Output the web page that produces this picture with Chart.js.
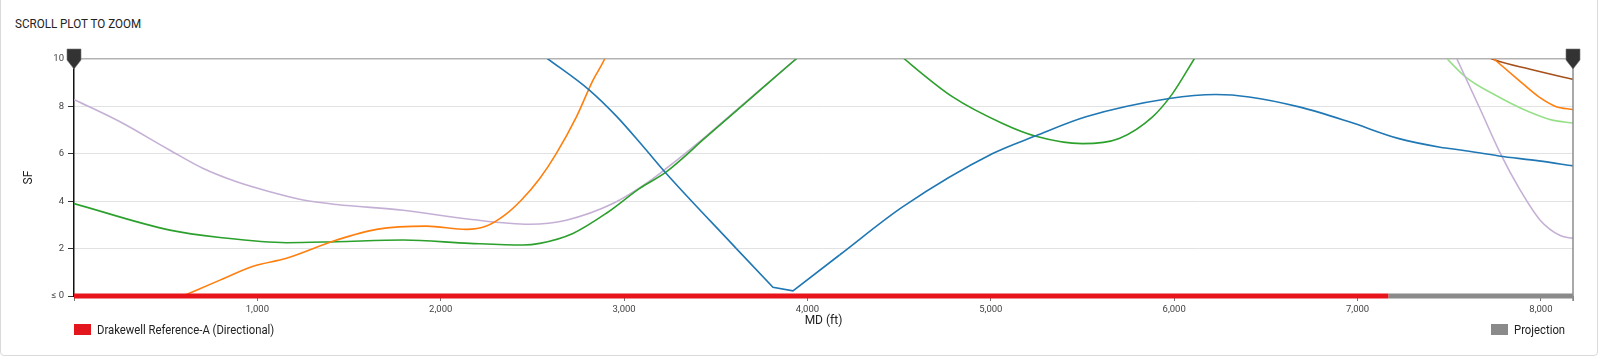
<!DOCTYPE html>
<html>
<head>
<meta charset="utf-8">
<title>SF vs MD</title>
<script src="https://cdn.jsdelivr.net/npm/chart.js@4.4.1/dist/chart.umd.min.js"></script>
<style>
    html, body {
        margin: 0;
        padding: 0;
        width: 1600px;
        height: 359px;
        overflow: hidden;
        background: #fff;
        font-family: Roboto, sans-serif;
    }
    .card {
        position: absolute;
        left: 0;
        top: -10px;
        width: 1598px;
        height: 366px;
        box-sizing: border-box;
        border: 1px solid #dadada;
        border-radius: 4px;
    }
    .plot-title {
        position: absolute;
        left: 15px;
        top: 16px;
        font-size: 12.5px;
        color: #222;
        white-space: nowrap;
        transform: scaleX(0.93);
        transform-origin: left center;
    }
    #chart-wrap {
        position: absolute;
        left: 0;
        top: 0;
        width: 1600px;
        height: 359px;
    }
    .legend-item {
        position: absolute;
        top: 322px;
        height: 14px;
        display: flex;
        align-items: center;
        white-space: nowrap;
        font-size: 13px;
        color: #222;
    }
    .legend-swatch {
        width: 17px;
        height: 11px;
        margin-right: 6px;
    }
    .legend-text {
        display: inline-block;
        transform: scaleX(0.87);
        transform-origin: left center;
    }
</style>
</head>
<body>
<div class="card"></div>
<div class="plot-title">SCROLL PLOT TO ZOOM</div>
<div id="chart-wrap"><canvas id="sf-chart"></canvas></div>
<div class="legend-item" style="left:74px;">
    <span class="legend-swatch" style="background:#e3161d;"></span>
    <span class="legend-text">Drakewell Reference-A (Directional)</span>
</div>
<div class="legend-item" style="left:1491px;">
    <span class="legend-swatch" style="background:#8a8a8a;"></span>
    <span class="legend-text">Projection</span>
</div>

<script>
// =====================
// Data (MD in ft, SF)
// =====================
const mdMax = 8175;
const planEndMd = 7168;

// blue: smooth down, sharp V near 3,900 ft, then back up
const blueMd = [2480, 2585, 2812, 2958, 3103, 3230, 3611, 3812, 3921, 4175, 4519, 5010, 5246, 5519, 5973, 6227, 6409, 6681, 6954, 7226, 7450, 7571, 7771, 7989, 8175];
const blueSf = [10.6, 10.0, 8.68, 7.59, 6.32, 5.17, 2.01, 0.37, 0.22, 1.73, 3.76, 6.01, 6.76, 7.56, 8.33, 8.5, 8.4, 7.98, 7.35, 6.64, 6.28, 6.15, 5.91, 5.7, 5.49];
const blueKinkMd = [3611, 4175];   // straight segment between these depths

const orangeMdA = [594, 796, 977, 1159, 1432, 1650, 1922, 2140, 2249, 2349, 2440, 2540, 2630, 2740, 2830, 2894, 2930];
const orangeSfA = [0, 0.67, 1.26, 1.59, 2.36, 2.81, 2.95, 2.81, 2.95, 3.41, 4.05, 4.96, 6.01, 7.56, 9.1, 10.0, 10.7];
const orangeMdB = [7700, 7744, 7880, 7989, 8080, 8175];
const orangeSfB = [10.3, 10.0, 9.1, 8.4, 8.0, 7.87];

const greenMdA = [0, 523, 796, 1159, 1432, 1795, 2158, 2449, 2540, 2721, 2903, 3085, 3230, 3448, 3720, 3938, 4000];
const greenSfA = [3.9, 2.78, 2.47, 2.25, 2.29, 2.36, 2.22, 2.15, 2.22, 2.64, 3.49, 4.54, 5.24, 6.71, 8.54, 10.0, 10.4];
const greenMdB = [4470, 4529, 4792, 5064, 5246, 5500, 5700, 5882, 5991, 6109, 6150];
const greenSfB = [10.4, 10.0, 8.4, 7.28, 6.74, 6.43, 6.65, 7.56, 8.54, 10.0, 10.5];

const lilacMdA = [0, 251, 523, 705, 887, 1068, 1250, 1432, 1795, 2158, 2485, 2685, 2939, 3121, 3230, 3448, 3720, 3938, 4000];
const lilacSfA = [8.29, 7.35, 6.15, 5.38, 4.82, 4.4, 4.05, 3.86, 3.62, 3.24, 3.03, 3.2, 3.9, 4.75, 5.38, 6.75, 8.56, 10.0, 10.4];
const lilacMdB = [7500, 7542, 7669, 7778, 7887, 7996, 8105, 8175];
const lilacSfB = [10.7, 10.0, 7.88, 6.03, 4.47, 3.2, 2.55, 2.43];

const lightGreenMd = [7440, 7490, 7590, 7753, 7935, 8062, 8175];
const lightGreenSf = [10.45, 10.0, 9.24, 8.47, 7.77, 7.42, 7.3];

const brownMd = [7700, 7735, 7953, 8175];
const brownSf = [10.14, 10.0, 9.55, 9.14];

const xTicks = [0, 1000, 2000, 3000, 4000, 5000, 6000, 7000, 8000, mdMax];
const yTicks = [0, 2, 4, 6, 8, 10];


// Zip two arrays into {x, y} points
function toPoints(mdList, sfList) {
    return mdList.map((md, i) => ({ x: md, y: sfList[i] }));
}

// Build one curve dataset (smooth unless told otherwise)
function curve(mdList, sfList, color, straight) {
    return {
        data: toPoints(mdList, sfList),
        borderColor: color,
        borderWidth: 1.6,
        pointRadius: 0,
        cubicInterpolationMode: straight ? 'default' : 'monotone',
        tension: 0,
        fill: false
    };
}

// Thick bar along SF = 0 showing the plan / projection part of the well
function baseline(fromMd, toMd, color) {
    return {
        data: toPoints([fromMd, toMd], [0, 0]),
        borderColor: color,
        borderWidth: 5,
        pointRadius: 0,
        tension: 0,
        clip: false
    };
}

// Split the blue curve so the V at the bottom stays sharp
const kinkFrom = blueMd.indexOf(blueKinkMd[0]);
const kinkTo = blueMd.indexOf(blueKinkMd[1]);


/**
 * Draws the slider handles on both ends of the plot and the right edge line.
 */
const sliderHandles = {
    id: 'sliderHandles',
    afterDraw(chart) {
        const { ctx, chartArea } = chart;
        ctx.save();

        // Right edge of the plot
        ctx.strokeStyle = '#8c8c8c';
        ctx.lineWidth = 1.5;
        ctx.beginPath();
        ctx.moveTo(chartArea.right, chartArea.top);
        ctx.lineTo(chartArea.right, chartArea.bottom + 5);
        ctx.stroke();

        [chartArea.left, chartArea.right].forEach(x => {
            const top = chartArea.top - 10;
            ctx.beginPath();
            ctx.moveTo(x - 7, top);
            ctx.lineTo(x + 7, top);
            ctx.lineTo(x + 7, top + 11);
            ctx.lineTo(x, top + 20);
            ctx.lineTo(x - 7, top + 11);
            ctx.closePath();
            ctx.fillStyle = '#333';
            ctx.fill();
            ctx.strokeStyle = '#777';
            ctx.lineWidth = 0.6;
            ctx.stroke();
        });

        ctx.restore();
    }
};


Chart.defaults.font.family = 'Roboto, sans-serif';

const ctx = document.getElementById('sf-chart').getContext('2d');

new Chart(ctx, {
    type: 'line',
    data: {
        datasets: [
            // wellbore baseline (drawn on top)
            baseline(0, planEndMd, '#e8141b'),
            baseline(planEndMd, mdMax, '#8a8a8a'),
            curve(blueMd.slice(0, kinkFrom + 1), blueSf.slice(0, kinkFrom + 1), '#1f77b4'),
            curve(blueMd.slice(kinkFrom, kinkTo + 1), blueSf.slice(kinkFrom, kinkTo + 1), '#1f77b4', true),
            curve(blueMd.slice(kinkTo), blueSf.slice(kinkTo), '#1f77b4'),
            curve(orangeMdA, orangeSfA, '#ff7f0e'),
            curve(orangeMdB, orangeSfB, '#ff7f0e'),
            curve(greenMdA, greenSfA, '#2ca02c'),
            curve(greenMdB, greenSfB, '#2ca02c'),
            curve(lilacMdA, lilacSfA, '#c5b0d5'),
            curve(lilacMdB, lilacSfB, '#c5b0d5'),
            curve(lightGreenMd, lightGreenSf, '#98df8a'),
            curve(brownMd, brownSf, '#a6501a')
        ]
    },
    options: {
        responsive: true,
        maintainAspectRatio: false,
        animation: false,
        layout: {
            padding: { top: 59, right: 27, left: 0, bottom: 0 }
        },
        plugins: {
            legend: { display: false },
            tooltip: { enabled: false }
        },
        scales: {
            x: {
                type: 'linear',
                min: 0,
                max: mdMax,
                afterFit(scale) { scale.height = 63; },
                afterBuildTicks(scale) {
                    scale.ticks = xTicks.map(v => ({ value: v }));
                },
                border: { display: false },
                grid: {
                    drawOnChartArea: false,
                    tickLength: 5,
                    tickColor: '#777'
                },
                ticks: {
                    autoSkip: false,
                    maxRotation: 0,
                    padding: 3,
                    color: '#444',
                    font: { size: 9.5 },
                    callback: v => (v > 0 && v % 1000 === 0) ? v.toLocaleString('en-US') : ''
                },
                title: {
                    display: true,
                    text: 'MD (ft)',
                    color: '#222',
                    font: { size: 12 },
                    padding: { top: 0, bottom: 31 }
                }
            },
            y: {
                min: 0,
                max: 10,
                afterFit(scale) { scale.width = 74; },
                afterBuildTicks(scale) {
                    scale.ticks = yTicks.map(v => ({ value: v }));
                },
                border: { color: '#111', width: 1.5 },
                grid: {
                    color: c => c.tick && c.tick.value === 10 ? '#b3b3b3' : '#e2e2e2',
                    lineWidth: c => c.tick && c.tick.value === 10 ? 1.5 : 1,
                    tickLength: 6,
                    tickColor: '#333'
                },
                ticks: {
                    padding: 4,
                    color: '#444',
                    font: { size: 9.5 },
                    callback: v => v === 0 ? '≤ 0' : v
                },
                title: {
                    display: true,
                    text: 'SF',
                    color: '#222',
                    font: { size: 12 },
                    padding: { top: 22, bottom: 0 }
                }
            }
        }
    },
    plugins: [sliderHandles]
});
</script>
</body>
</html>
